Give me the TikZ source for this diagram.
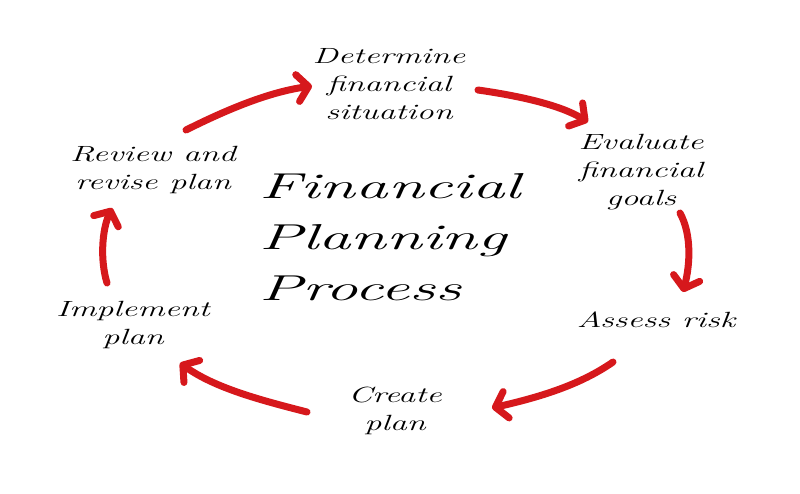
\documentclass[tikz,border=0pt]{standalone}
\usepackage{graphicx}
\usetikzlibrary{arrows.meta}
\definecolor{arrowred}{RGB}{214,24,28}
\newcommand\lbltext[1]{\scalebox{1.55}[1]{\fontsize{22}{28}\selectfont\itshape\begin{tabular}{@{}c@{}}#1\end{tabular}}}
\newcommand\titletext[1]{\scalebox{1.8}[1]{\fontsize{36}{51}\selectfont\itshape\begin{tabular}{@{}l@{}}#1\end{tabular}}}
\tikzset{
  lbl/.style={inner sep=0pt, text=black},
  cyclearrow/.style={draw=arrowred, line width=7pt, line cap=round,
    -{Straight Barb[length=11pt, width=27pt, line cap=round, line join=round]}}
}
\begin{document}
\begin{tikzpicture}[x=1pt,y=-1pt]
\useasboundingbox[fill=white] (0,0) rectangle (800,493);
% nodes
\node[lbl] (determine) at (389,85.4) {\lbltext{Determine\\financial\\situation}};
\node[lbl] (evaluate) at (641,171.4) {\lbltext{Evaluate\\financial\\goals}};
\node[lbl] (assess) at (656,321.4) {\lbltext{Assess risk}};
\node[lbl] (create) at (395,410.4) {\lbltext{Create\\plan}};
\node[lbl] (implement) at (133,324.4) {\lbltext{Implement\\plan}};
\node[lbl] (review) at (153,169.4) {\lbltext{Review and\\revise plan}};
\node[lbl, anchor=north west] (title) at (259,163) {\titletext{Financial\\Planning\\Process}};
% arrow end points
\coordinate (a1s) at (186,130); \coordinate (a1e) at (312,86);
\coordinate (a2s) at (478,90);  \coordinate (a2e) at (588,122);
\coordinate (a3s) at (680,213); \coordinate (a3e) at (683,292);
\coordinate (a4s) at (613,362); \coordinate (a4e) at (492,408);
\coordinate (a5s) at (307,412); \coordinate (a5e) at (180,363);
\coordinate (a6s) at (107,283); \coordinate (a6e) at (112,208);
% arrows
\draw[cyclearrow] (a1s) .. controls (230,108) and (270,92) .. (a1e);
\draw[cyclearrow] (a2s) .. controls (520,96) and (560,105) .. (a2e);
\draw[cyclearrow] (a3s) .. controls (692,235) and (690,265) .. (a3e);
\draw[cyclearrow] (a4s) .. controls (580,385) and (540,397) .. (a4e);
\draw[cyclearrow] (a5s) .. controls (260,400) and (215,388) .. (a5e);
\draw[cyclearrow] (a6s) .. controls (100,260) and (102,230) .. (a6e);
\end{tikzpicture}
\end{document}
